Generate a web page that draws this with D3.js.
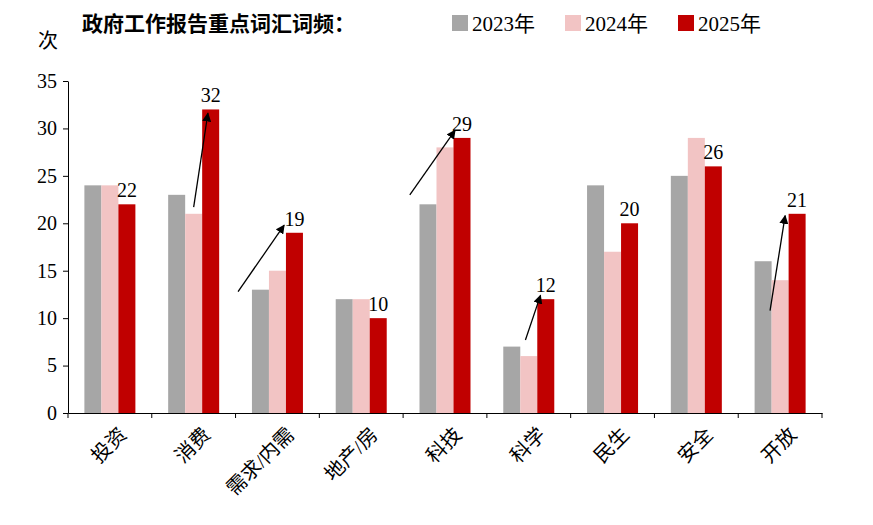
<!DOCTYPE html><html><head><meta charset="utf-8"><script src="https://cdn.jsdelivr.net/npm/d3@7"></script>
<style>body{margin:0;background:#fff}</style></head><body><svg id="c" width="873" height="525"></svg>
<script>
const categories=["投资","消费","需求/内需","地产/房","科技","科学","民生","安全","开放"];
const seriesNames=["2023年","2024年","2025年"];
const v2023=[24,23,13,12,22,7,24,25,16];
const v2024=[24,21,15,12,28,6,17,29,14];
const v2025=[22,32,19,10,29,12,20,26,21];
const yTicks=[0,5,10,15,20,25,30,35];
const arrows=[[1,21.7,31.6,0.0,0.17],[2,12.8,19.8,-0.47,0.08],[4,23,29.8,-0.42,0.12],[5,7.7,12.4,-0.04,0.14],[8,10.8,20.8,-0.12,0.06]];
const colors=["#a6a6a6","#f2c4c4","#c00000"];
const svg=d3.select("#c"),font="Liberation Serif, Times New Roman, DejaVu Serif, Noto Sans CJK SC, serif";
const x=d3.scaleBand().domain(categories).range([68,822]);
const y=d3.scaleLinear().domain([0,35]).range([413,81]);
const xs=d3.scaleBand().domain([0,1,2]).range([0,51]);
const g=svg.append("g");
g.append("g").attr("transform","translate(68,0)").call(d3.axisLeft(y).tickValues(yTicks).tickSize(5).tickSizeOuter(0))
 .call(a=>{a.attr("font-family",null);a.selectAll("text").style("font-family",font).attr("font-size",20).attr("fill","#000").attr("dx",-3);a.selectAll("line,path").attr("stroke","#000");});
g.append("g").attr("transform","translate(0,413)").call(d3.axisBottom(x).tickSize(0).tickSizeOuter(0).tickFormat(""))
 .call(a=>a.selectAll("line,path").attr("stroke","#000"));
g.append("g").selectAll("line").data(d3.range(categories.length+1)).join("line")
 .attr("x1",i=>68+i*x.step()).attr("x2",i=>68+i*x.step()).attr("y1",413).attr("y2",418).attr("stroke","#000");
const data=[v2023,v2024,v2025];
categories.forEach((c,i)=>{
 const x0=x(c)+x.bandwidth()/2-25.5;
 data.forEach((s,j)=>{
  g.append("rect").attr("x",x0+xs(j)).attr("width",xs.bandwidth()).attr("y",y(s[i])).attr("height",y(0)-y(s[i])).attr("fill",colors[j]);
 });
 g.append("text").attr("x",x0+xs(2)+xs.bandwidth()/2).attr("y",y(v2025[i])-7).attr("text-anchor","middle")
  .style("font-family",font).attr("font-size",20).text(v2025[i]);
 g.append("text").attr("transform",`translate(${x(c)+x.bandwidth()/2+8},${426}) rotate(-45)`).attr("text-anchor","end")
  .attr("dy","0.7em").style("font-family",font).attr("font-size",20).text(c);
});
svg.append("defs").append("marker").attr("id","ar").attr("viewBox","0 0 10 10").attr("refX",9).attr("refY",5)
 .attr("markerWidth",7).attr("markerHeight",7).attr("orient","auto").append("path").attr("d","M0,0L10,5L0,10z");
arrows.forEach(([i,a,b,o1,o2])=>{
 const cx=x(categories[i])+x.bandwidth()/2;
 g.append("line").attr("x1",cx+o1*x.step()).attr("y1",y(a)).attr("x2",cx+o2*x.step()).attr("y2",y(b))
  .attr("stroke","#000").attr("stroke-width",1.3).attr("marker-end","url(#ar)");
});
svg.append("text").attr("x",38).attr("y",48).style("font-family",font).attr("font-size",20).text("次");
svg.append("text").attr("x",82).attr("y",31).style("font-family",font).attr("font-size",21).attr("font-weight","bold").text("政府工作报告重点词汇词频：");
seriesNames.forEach((n,j)=>{
 const lx=452+j*113;
 svg.append("rect").attr("x",lx).attr("y",15).attr("width",16).attr("height",16).attr("fill",colors[j]);
 svg.append("text").attr("x",lx+20).attr("y",31).style("font-family",font).attr("font-size",21).text(n);
});
</script></body></html>
